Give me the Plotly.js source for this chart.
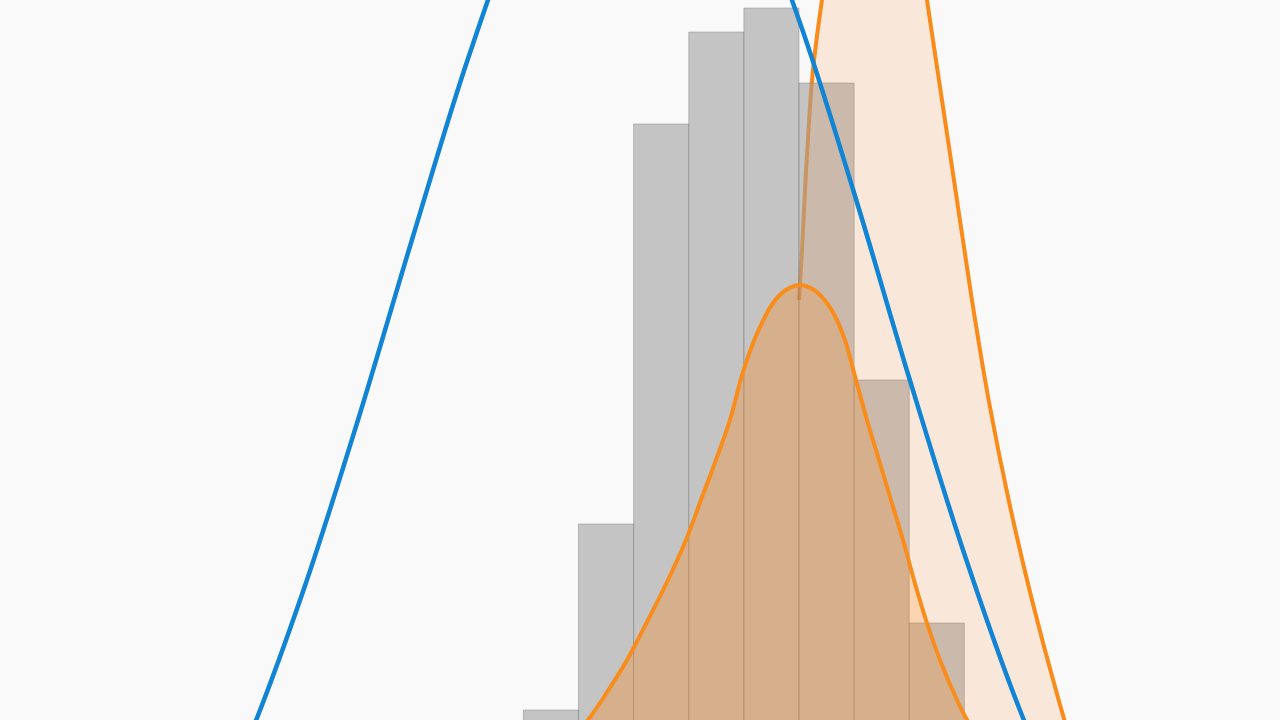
<!DOCTYPE html>
<html>
<head>
<meta charset="utf-8">
<script src="https://cdn.plot.ly/plotly-3.0.1.min.js"></script>
<style>html,body{margin:0;padding:0;background:#f9f9f9;}#chart{width:1280px;height:720px;}</style>
</head>
<body>
<div id="chart"></div>
<script>
// Histogram bins (centres, unit width) and heights
const binCenters = [-4.5, -3.5, -2.5, -1.5, -0.5, 0.5, 1.5, 2.5];
const binHeights = [0.402, 0.588, 0.988, 1.080, 1.104, 1.029, 0.732, 0.489];

// Blue (wide) curve
const blueX = [-12, -11, -10, -9, -8, -7, -6, -5, -4, -3, -2, -1, 0, 1, 2, 3, 4, 5, 6, 7];
const blueY = [0.162, 0.251, 0.371, 0.520, 0.692, 0.876, 1.054, 1.204, 1.308, 1.350, 1.323, 1.233, 1.092, 0.919, 0.734, 0.558, 0.403, 0.276, 0.180, 0.112];

// Small orange curve (filled)
const smallX = [-4.281, -3.828, -3.574, -3.120, -2.739, -2.376, -2.050, -1.778, -1.506, -1.252, -1.016, -0.780, -0.472, -0.236, 0.018, 0.272, 0.508, 0.689, 0.834, 1.034, 1.234, 1.451, 1.669, 1.887, 2.086, 2.304, 2.558, 2.866, 3.048, 3.320];
const smallY = [0.362, 0.392, 0.412, 0.452, 0.492, 0.532, 0.572, 0.612, 0.652, 0.692, 0.740, 0.776, 0.809, 0.822, 0.827, 0.822, 0.809, 0.792, 0.772, 0.732, 0.692, 0.652, 0.612, 0.572, 0.532, 0.492, 0.452, 0.412, 0.392, 0.362];

// Tall orange curve (starts at 0)
const bigX = [0, 0.054, 0.109, 0.172, 0.236, 0.317, 0.417, 0.580, 0.726, 0.889, 1.088, 1.361, 1.633, 1.832, 1.995, 2.159, 2.322, 2.594, 2.866, 3.138, 3.441, 3.804, 4.227, 4.711, 5.255, 5.859];
const bigY = [0.812, 0.862, 0.922, 0.982, 1.032, 1.072, 1.112, 1.172, 1.232, 1.292, 1.347, 1.377, 1.352, 1.297, 1.232, 1.172, 1.112, 1.012, 0.912, 0.812, 0.712, 0.612, 0.512, 0.412, 0.312, 0.212];

const xRange = [-14.494, 8.726];
const yRange = [0.392, 1.112];

const ORANGE = '#f98d1c';
const BLUE = '#1184d3';

const helperX = [], helperY = [];
smallX.forEach((v, i) => { if (v >= 0) { helperX.push(v); helperY.push(smallY[i]); } });

const traces = [
  {type: 'scatter', x: bigX, y: bigY, mode: 'lines', xaxis: 'x', yaxis: 'y',
   line: {color: ORANGE, width: 4, shape: 'spline', smoothing: 1}, hoverinfo: 'skip'},
  {type: 'bar', x: binCenters, y: binHeights, width: 1, xaxis: 'x2', yaxis: 'y2',
   marker: {color: 'rgba(160,160,160,0.6)', line: {color: 'rgba(120,120,120,0.4)', width: 1}}, hoverinfo: 'skip'},
  {type: 'scatter', x: helperX, y: helperY, mode: 'lines', xaxis: 'x2', yaxis: 'y2',
   line: {color: 'rgba(0,0,0,0)', width: 0, shape: 'spline', smoothing: 1}, hoverinfo: 'skip'},
  {type: 'scatter', x: bigX, y: bigY, mode: 'lines', xaxis: 'x2', yaxis: 'y2',
   line: {color: 'rgba(0,0,0,0)', width: 0, shape: 'spline', smoothing: 1}, fill: 'tonexty',
   fillcolor: 'rgba(255,127,14,0.13)', hoverinfo: 'skip'},
  {type: 'scatter', x: smallX, y: smallY, mode: 'lines', xaxis: 'x2', yaxis: 'y2',
   line: {color: ORANGE, width: 4, shape: 'spline', smoothing: 1}, fill: 'tozeroy',
   fillcolor: 'rgba(255,127,14,0.3)', hoverinfo: 'skip'},
  {type: 'scatter', x: blueX, y: blueY, mode: 'lines', xaxis: 'x2', yaxis: 'y2',
   line: {color: BLUE, width: 4.5, shape: 'spline', smoothing: 1}, hoverinfo: 'skip'}
];

const layout = {
  width: 1280, height: 720,
  margin: {l: 0, r: 0, t: 0, b: 0, pad: 0},
  paper_bgcolor: '#f9f9f9', plot_bgcolor: '#f9f9f9',
  showlegend: false, bargap: 0,
  xaxis: {range: xRange, visible: false, fixedrange: true},
  yaxis: {range: yRange, visible: false, fixedrange: true},
  xaxis2: {range: xRange, visible: false, overlaying: 'x', anchor: 'y2', fixedrange: true},
  yaxis2: {range: yRange, visible: false, overlaying: 'y', anchor: 'x2', fixedrange: true}
};

Plotly.newPlot('chart', traces, layout, {staticPlot: true, displayModeBar: false});
</script>
</body>
</html>
